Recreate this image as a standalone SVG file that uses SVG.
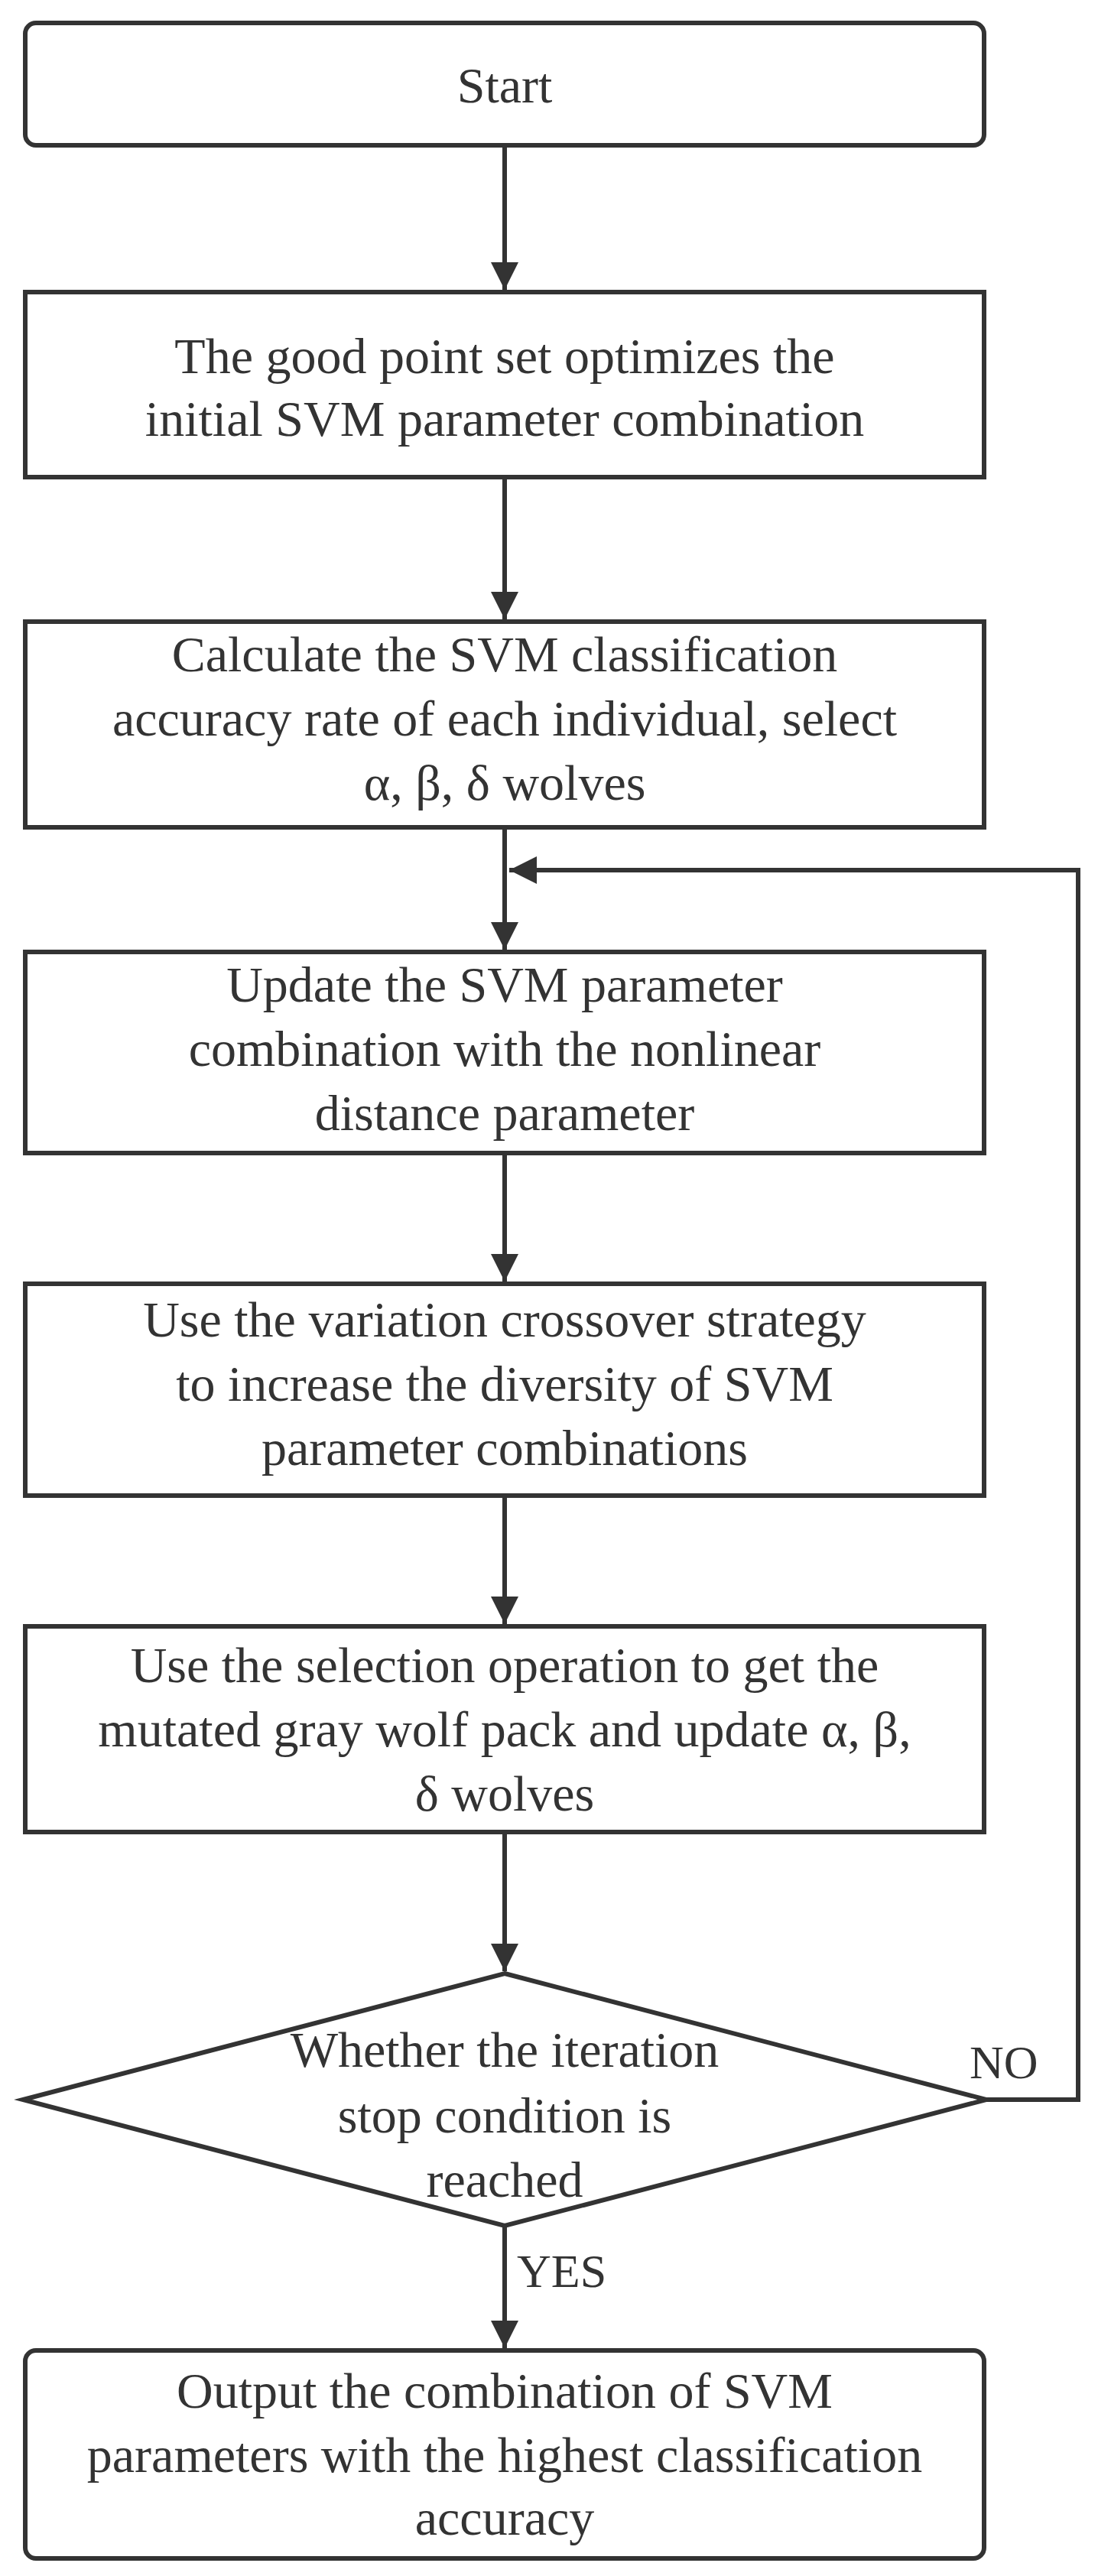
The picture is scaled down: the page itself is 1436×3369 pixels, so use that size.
<svg xmlns="http://www.w3.org/2000/svg" width="1436" height="3369" viewBox="0 0 1436 3369">
<style>
.n{fill:#fff;stroke:#333;stroke-width:6}
.t{font-family:"Liberation Serif","Times New Roman",serif;font-size:66px;fill:#333;text-anchor:middle}
.l{font-family:"Liberation Serif","Times New Roman",serif;font-size:62px;fill:#333}
.c{fill:none;stroke:#333;stroke-width:6}
</style>
<defs>
<marker id="a" viewBox="0 0 10 10" refX="10" refY="5" markerWidth="6" markerHeight="6" orient="auto" markerUnits="strokeWidth"><path d="M0,0L10,5L0,10z" fill="#333"/></marker>
</defs>
<rect width="1436" height="3369" fill="#fff"/>
<g id="connectors">
<line class="c" x1="660" y1="190" x2="660" y2="379" marker-end="url(#a)"/>
<line class="c" x1="660" y1="624" x2="660" y2="810" marker-end="url(#a)"/>
<line class="c" x1="660" y1="1082" x2="660" y2="1242" marker-end="url(#a)"/>
<line class="c" x1="660" y1="1508" x2="660" y2="1676" marker-end="url(#a)"/>
<line class="c" x1="660" y1="1956" x2="660" y2="2124" marker-end="url(#a)"/>
<line class="c" x1="660" y1="2396" x2="660" y2="2578" marker-end="url(#a)"/>
<line class="c" x1="660" y1="2911" x2="660" y2="3071" marker-end="url(#a)"/>
<polyline class="c" points="1290,2746 1410,2746 1410,1138 666,1138" marker-end="url(#a)"/>
<text class="l" x="676" y="2991">YES</text>
<text class="l" x="1268" y="2718">NO</text>
</g>
<g id="start"><rect class="n" x="33" y="30" width="1254" height="160" rx="14"/><text class="t" x="660" y="134">Start</text></g>
<g id="n1"><rect class="n" x="33" y="382" width="1254" height="242"/><text class="t" x="660" y="488">The good point set optimizes the</text><text class="t" x="660" y="570">initial SVM parameter combination</text></g>
<g id="n2"><rect class="n" x="33" y="813" width="1254" height="269"/><text class="t" x="660" y="878">Calculate the SVM classification</text><text class="t" x="660" y="962">accuracy rate of each individual, select</text><text class="t" x="660" y="1046">α, β, δ wolves</text></g>
<g id="n3"><rect class="n" x="33" y="1245" width="1254" height="263"/><text class="t" x="660" y="1310">Update the SVM parameter</text><text class="t" x="660" y="1394">combination with the nonlinear</text><text class="t" x="660" y="1478">distance parameter</text></g>
<g id="n4"><rect class="n" x="33" y="1679" width="1254" height="277"/><text class="t" x="660" y="1748">Use the variation crossover strategy</text><text class="t" x="660" y="1832">to increase the diversity of SVM</text><text class="t" x="660" y="1916">parameter combinations</text></g>
<g id="n5"><rect class="n" x="33" y="2127" width="1254" height="269"/><text class="t" x="660" y="2200">Use the selection operation to get the</text><text class="t" x="660" y="2284">mutated gray wolf pack and update α, β,</text><text class="t" x="660" y="2368">δ wolves</text></g>
<g id="decision"><polygon class="n" points="660,2581 1290,2746 660,2911 30,2746"/><text class="t" x="660" y="2703">Whether the iteration</text><text class="t" x="660" y="2789">stop condition is</text><text class="t" x="660" y="2873">reached</text></g>
<g id="end"><rect class="n" x="33" y="3074" width="1254" height="272" rx="14"/><text class="t" x="660" y="3149">Output the combination of SVM</text><text class="t" x="660" y="3233">parameters with the highest classification</text><text class="t" x="660" y="3315">accuracy</text></g>
</svg>
